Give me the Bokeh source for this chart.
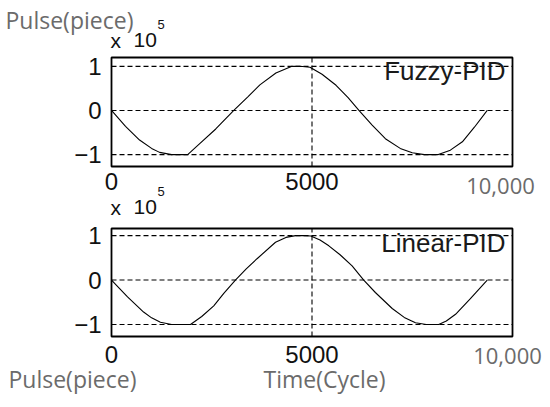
from bokeh.plotting import figure
from bokeh.models import Label, FixedTicker, BoxAnnotation, Range1d
from bokeh.layouts import column
from bokeh.embed import file_html
from bokeh.resources import INLINE

# ---- data (x: Time(Cycle), y: Pulse x 1e5) ----
fuzzy_x = [0, 350, 700, 1000, 1200, 1500, 1900, 2200, 2600, 3050, 3400, 3700, 4100, 4500, 4700, 4950, 5250, 5600, 5900, 6170, 6500, 6830, 7200, 7500, 7800, 8150, 8450, 8750, 9050, 9370]
fuzzy_y = [0, -0.36, -0.67, -0.86, -0.95, -1.0, -1.0, -0.75, -0.42, 0, 0.31, 0.58, 0.85, 1.0, 1.0, 0.98, 0.82, 0.57, 0.29, 0, -0.33, -0.64, -0.86, -0.96, -1.0, -1.0, -0.9, -0.71, -0.38, 0]
linear_x = [0, 400, 800, 1000, 1220, 1500, 1970, 2250, 2550, 2800, 3090, 3360, 3630, 4090, 4350, 4590, 4800, 4970, 5200, 5420, 5700, 6000, 6290, 6580, 7000, 7300, 7580, 7850, 8160, 8350, 8580, 8950, 9370]
linear_y = [0, -0.38, -0.72, -0.85, -0.95, -1.0, -1.0, -0.82, -0.58, -0.3, 0, 0.25, 0.48, 0.85, 0.96, 1.0, 1.0, 0.99, 0.9, 0.77, 0.57, 0.32, 0, -0.28, -0.64, -0.84, -0.96, -1.0, -1.0, -0.92, -0.77, -0.42, 0]

x_ticks = [0, 5000]
x_grid = [5000]
y_ticks = [-1, 0, 1]
y_labels = {-1: "\u22121", 0: "0", 1: "1"}
x_end_label = "10,000"
panel_names = ["Fuzzy-PID", "Linear-PID"]
y_title = "Pulse(piece)"
x_title = "Time(Cycle)"

XMIN, XMAX = 0, 10000
W = 550
BOX_L, BOX_R = 111, 512
KX = (BOX_R - BOX_L) / (XMAX - XMIN)
GREY = "#6b6b6b"
GREY_FONT = "Open Sans"
INK = "#111111"


def X(px):
    return XMIN + (px - BOX_L) / KX


def make_panel(xs, ys, name, fig_top, fig_h, box_top, box_bot, ymin, ymax, tick_standoff):
    ky = (box_bot - box_top) / (ymax - ymin)

    def Y(py):  # page pixel row -> data y
        return ymax - (py - box_top) / ky

    p = figure(width=W, height=fig_h,
               x_range=Range1d(X(0), X(W)), y_range=Range1d(Y(fig_top + fig_h), Y(fig_top)),
               output_backend="svg", toolbar_location=None,
               min_border=0, min_border_left=0, min_border_right=0,
               min_border_top=0, min_border_bottom=0)
    p.background_fill_color = "white"
    p.border_fill_color = "white"
    p.outline_line_color = None
    p.grid.visible = False

    # axes pinned to the plot box edges
    p.xaxis.fixed_location = ymin
    p.yaxis.fixed_location = XMIN
    for ax in (p.xaxis[0], p.yaxis[0]):
        ax.axis_line_color = None
        ax.major_tick_line_color = None
        ax.minor_tick_line_color = None
        ax.major_tick_in = 0
        ax.major_tick_out = 0
        ax.minor_tick_in = 0
        ax.minor_tick_out = 0
        ax.major_label_text_font = "Liberation Sans"
        ax.major_label_text_font_size = "24px"
        ax.major_label_text_color = INK
    p.xaxis.ticker = FixedTicker(ticks=x_ticks)
    p.yaxis.ticker = FixedTicker(ticks=y_ticks)
    p.yaxis.major_label_overrides = y_labels
    p.yaxis.major_label_standoff = 10
    p.xaxis.major_label_standoff = tick_standoff

    # dashed grid
    p.segment(x0=[XMIN] * len(y_ticks), x1=[XMAX] * len(y_ticks), y0=y_ticks, y1=y_ticks,
              line_color="black", line_dash="5 3", line_width=1.1)
    p.segment(x0=x_grid, x1=x_grid, y0=[ymin] * len(x_grid), y1=[ymax] * len(x_grid),
              line_color="black", line_dash="5 3", line_width=1.1)

    p.line(xs, ys, line_color="black", line_width=1.1)

    p.add_layout(BoxAnnotation(left=XMIN, right=XMAX, bottom=ymin, top=ymax,
                               fill_color=None, fill_alpha=0, line_color="black",
                               line_width=1.8, line_alpha=1.0))
    return p, Y


def label(p, Y, px, baseline_py, text, font, size, color, align="left"):
    # baseline_py: wanted baseline row on the page; renderer puts the baseline ~0.35em lower
    p.add_layout(Label(x=X(px), y=Y(baseline_py - 0.35 * size), text=text, text_align=align,
                       text_baseline="alphabetic", text_font=font,
                       text_font_size=f"{size}px", text_color=color))


SPLIT = 218  # page row where the lower figure starts

top, Yt = make_panel(fuzzy_x, fuzzy_y, panel_names[0], 0, SPLIT, 57, 166, -1.27, 1.2, 6)
label(top, Yt, 505, 80, panel_names[0], "Liberation Sans", 26, "#1a1a1a", "right")
label(top, Yt, 500, 193, x_end_label, GREY_FONT, 22, GREY, "center")
label(top, Yt, 110, 47, "x", "Liberation Sans", 21, INK)
label(top, Yt, 133, 47, "10", "Liberation Sans", 21, INK)
label(top, Yt, 157, 28.5, "5", "Liberation Sans", 13, INK)
label(top, Yt, 5, 28, y_title, GREY_FONT, 23, GREY)
# scale factor note of the lower panel (sits in the gap between the panels)
label(top, Yt, 110, 214, "x", "Liberation Sans", 21, INK)
label(top, Yt, 133, 214, "10", "Liberation Sans", 21, INK)
label(top, Yt, 157, 195.5, "5", "Liberation Sans", 13, INK)

bot, Yb = make_panel(linear_x, linear_y, panel_names[1], SPLIT, 407 - SPLIT, 228, 336, -1.27, 1.16, 9)
label(bot, Yb, 505, 252, panel_names[1], "Liberation Sans", 26, "#1a1a1a", "right")
label(bot, Yb, 507, 363, x_end_label, GREY_FONT, 22, GREY, "center")
label(bot, Yb, 8, 387, y_title, GREY_FONT, 23, GREY)
label(bot, Yb, 324, 387, x_title, GREY_FONT, 23, GREY, "center")

layout = column(top, bot, spacing=0)
open("out.html", "w").write(file_html(layout, INLINE))
